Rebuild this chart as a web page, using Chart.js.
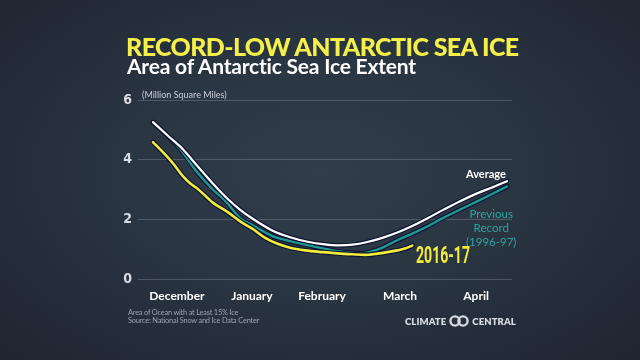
<!DOCTYPE html>
<html>
<head>
<meta charset="utf-8">
<script src="https://cdn.jsdelivr.net/npm/chart.js@4.4.1/dist/chart.umd.min.js"></script>
<style>
  html,body{margin:0;padding:0;}
  body{width:640px;height:360px;overflow:hidden;position:relative;
    background:radial-gradient(ellipse 70% 75% at 50% 48%, #313d4b 0%, #2a3542 45%, #1d2530 100%);
    font-family:Lato,"Open Sans",sans-serif;}
  #wrap{position:absolute;left:0;top:0;width:640px;height:360px;}
  .t{position:absolute;white-space:nowrap;}
  #title{left:126px;top:31px;font-size:25px;font-weight:900;color:#f5ef4a;letter-spacing:-0.6px;}
  #sub{left:127px;top:53px;font-size:21px;font-weight:700;color:#ffffff;letter-spacing:-0.2px;}
  #unit{left:142px;top:89px;font-size:9px;color:#c9ced6;}
  #avg{left:466px;top:167px;font-size:11px;font-weight:700;color:#ffffff;}
  #prev{left:466px;top:207px;font-size:11.5px;font-weight:400;color:#2aa59d;text-align:center;line-height:14px;}
  #y17{left:416px;top:241px;font-size:24px;font-weight:700;color:#f3ec3a;font-family:Roboto,"Liberation Sans",sans-serif;transform-origin:0 0;}
  #note{left:128px;top:309px;font-size:7.4px;color:#9aa2ad;line-height:8px;letter-spacing:-0.2px;}
  #logo{left:405px;top:315px;font-size:9.5px;font-weight:800;color:#d5dae0;letter-spacing:0.1px;display:flex;align-items:center;}
</style>
</head>
<body>
<div id="wrap"><canvas id="c" width="640" height="360"></canvas></div>
<div class="t" id="title">RECORD-LOW ANTARCTIC SEA ICE</div>
<div class="t" id="sub">Area of Antarctic Sea Ice Extent</div>
<div class="t" id="unit">(Million Square Miles)</div>
<div class="t" id="avg">Average</div>
<div class="t" id="prev">Previous<br>Record<br>(1996-97)</div>
<div class="t" id="y17">2016-17</div>
<div class="t" id="note">Area of Ocean with at Least 15% Ice<br>Source: National Snow and Ice Data Center</div>
<div class="t" id="logo">CLIMATE<svg width="22" height="12" viewBox="0 0 22 12" style="margin:0 2px"><circle cx="7" cy="6" r="4.6" fill="none" stroke="#d5dae0" stroke-width="2.4"/><circle cx="15" cy="6" r="4.6" fill="none" stroke="#d5dae0" stroke-width="2.4"/></svg>CENTRAL</div>
<script>
// fit the condensed label to its width in the reference
(function(){
  const el = document.getElementById('y17');
  const w = el.getBoundingClientRect().width;
  el.style.transform = 'scaleX(' + (54 / w) + ')';
})();

// x values are days since 1 December
const monthLabels = ["December","January","February","March","April"];
const monthPositions = [15.6, 45.7, 73.8, 105.1, 135.6];
const yTicks = [0, 2, 4, 6];

const avgDays =   [6, 12, 18, 24, 30, 36, 41, 46, 54, 61, 68, 75, 80, 86, 92, 98, 104, 110, 116, 122, 129, 136, 142, 148];
const avgValues = [5.26, 4.8, 4.35, 3.77, 3.2, 2.68, 2.32, 2.02, 1.62, 1.4, 1.25, 1.16, 1.13, 1.15, 1.24, 1.38, 1.56, 1.78, 2.03, 2.3, 2.6, 2.87, 3.07, 3.28];

const prevDays =   [6, 12, 17, 24, 30, 35, 41, 46, 54, 61, 68, 75, 80, 86, 90, 94, 98, 104, 110, 116, 122, 129, 136, 142, 148];
const prevValues = [5.25, 4.79, 4.34, 3.55, 3.0, 2.62, 2.04, 1.8, 1.44, 1.27, 1.14, 1.01, 0.93, 0.88, 0.86, 0.93, 1.05, 1.3, 1.52, 1.76, 2.03, 2.32, 2.6, 2.85, 3.1];

const recDays =   [6, 10, 14, 18, 21, 24, 30, 36, 41, 46, 51, 56, 61, 67, 74, 80, 86, 91, 96, 100, 104, 107, 110];
const recValues = [4.59, 4.25, 3.88, 3.45, 3.2, 3.02, 2.56, 2.24, 1.93, 1.68, 1.38, 1.18, 1.05, 0.96, 0.9, 0.86, 0.83, 0.81, 0.85, 0.9, 0.96, 1.02, 1.12];

const pts = (xs, ys) => xs.map((x, i) => ({x: x, y: ys[i]}));
const outline = '#0e1633';
function line(data, color, w, order) {
  return {data: data, borderColor: color, borderWidth: w, pointRadius: 0, fill: false,
          cubicInterpolationMode: 'monotone', order: order, borderCapStyle: 'round', borderJoinStyle: 'round'};
}

new Chart(document.getElementById('c'), {
  type: 'line',
  data: {
    datasets: [
      line(pts(recDays, recValues), '#f3ec3a', 2.6, 0),
      line(pts(recDays, recValues), outline, 5, 1),
      line(pts(avgDays, avgValues), '#ffffff', 2.2, 2),
      line(pts(avgDays, avgValues), outline, 4.6, 3),
      line(pts(prevDays, prevValues), '#1f9a93', 2.4, 4),
      line(pts(prevDays, prevValues), outline, 4.8, 5)
    ]
  },
  options: {
    responsive: false,
    animation: false,
    events: [],
    layout: {padding: {left: 100, right: 128, top: 100, bottom: 51}},
    plugins: {legend: {display: false}, tooltip: {enabled: false}},
    scales: {
      x: {
        type: 'linear', min: 0, max: 150,
        grid: {display: false, drawTicks: false},
        border: {display: false},
        afterBuildTicks: s => { s.ticks = monthPositions.map(v => ({value: v})); },
        afterFit: s => { s.height = 30; },
        ticks: {
          autoSkip: false, maxRotation: 0, padding: 10,
          color: '#ffffff', font: {family: 'Lato', size: 12, weight: 'bold'},
          callback: (v, i) => monthLabels[i]
        }
      },
      y: {
        min: 0, max: 6,
        afterBuildTicks: s => { s.ticks = yTicks.map(v => ({value: v})); },
        afterFit: s => { s.width = 38; },
        grid: {color: 'rgba(200,208,218,0.24)', lineWidth: 1, drawTicks: false},
        border: {display: false},
        ticks: {
          padding: 6, color: '#d8dce2',
          font: {family: '"DejaVu Sans Condensed", "Liberation Sans", sans-serif', size: 14, weight: 'bold'}
        }
      }
    }
  }
});
</script>
</body>
</html>
